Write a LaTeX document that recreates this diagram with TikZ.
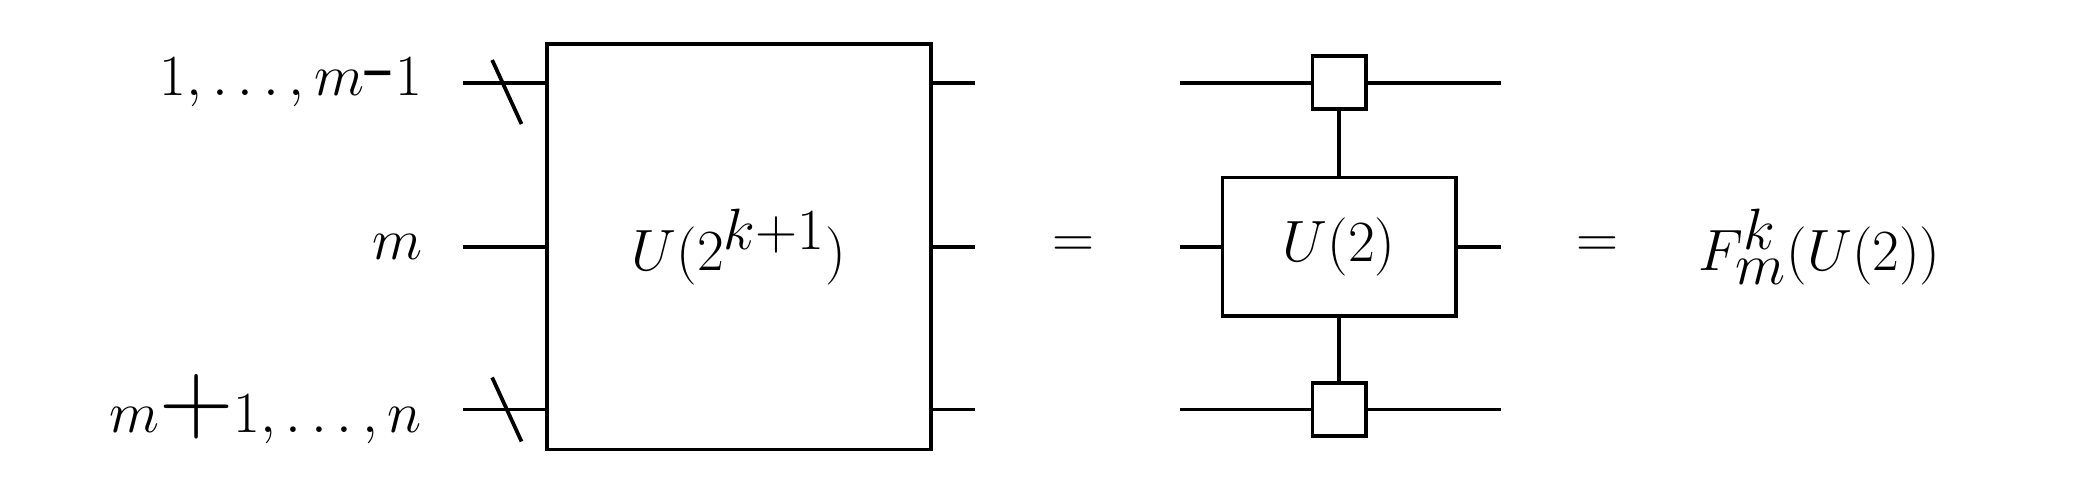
\documentclass[tikz,border=0pt]{standalone}
\begin{document}
\begin{tikzpicture}[x=0.02cm,y=-0.02cm,line width=1.6pt,
  lbl/.style={font=\fontsize{44}{50}\selectfont,inner sep=0pt},
  gate/.style={draw,fill=white,inner sep=0pt,font=\fontsize{44}{50}\selectfont}]
\useasboundingbox (0,0) rectangle (1558,368);
% left circuit
\node[gate,minimum width=288*0.02cm,minimum height=304*0.02cm] (big) at (554,185) {$U(2^{k+1})$};
\coordinate (l1) at (347,62); \coordinate (l2) at (347,185); \coordinate (l3) at (347,307);
\coordinate (r1) at (731,62); \coordinate (r2) at (731,185); \coordinate (r3) at (731,307);
\draw (l1) -- (l1 -| big.west) (l2) -- (big.west) (l3) -- (l3 -| big.west);
\draw (r1) -- (r1 -| big.east) (r2) -- (big.east) (r3) -- (r3 -| big.east);
\draw (369,45) -- (391,93) (369,283) -- (391,331);
\node[lbl,anchor=east] (t1) at (318,62) {$1,\ldots,m$-$1$};
\node[lbl,anchor=east] (t2) at (318,185) {$m$};
\node[lbl,anchor=east] (t3) at (318,307) {$m$+$1,\ldots,n$};
\node[lbl] (eq1) at (805,185) {$=$};
% right circuit
\coordinate (a1) at (885,62); \coordinate (b1) at (1125,62);
\coordinate (a3) at (885,307); \coordinate (b3) at (1125,307);
\coordinate (a2) at (885,185); \coordinate (b2) at (1125,185);
\draw (a1) -- (b1) (a3) -- (b3) (a2) -- (b2);
\node[gate,minimum width=175*0.02cm,minimum height=104*0.02cm] (u2) at (1004,185) {$U(2)$};
\node[gate,minimum size=40*0.02cm] (c1) at (1004,62) {};
\node[gate,minimum size=40*0.02cm] (c2) at (1004,307) {};
\draw (c1) -- (u2) (u2) -- (c2);
\node[lbl] (eq2) at (1198,185) {$=$};
\node[lbl,anchor=west] (f) at (1272,185) {$F^k_m(U(2))$};
\end{tikzpicture}
\end{document}
